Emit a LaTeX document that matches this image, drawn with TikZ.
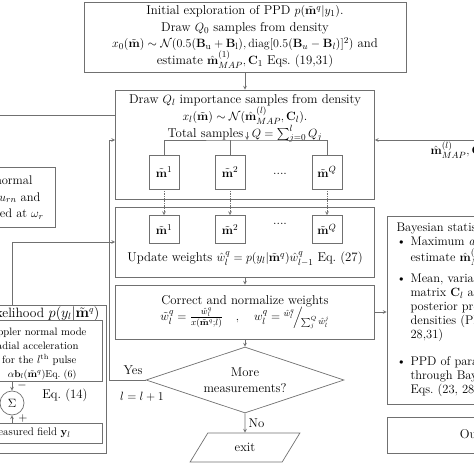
\documentclass[tikz,border=0pt]{standalone}
\usepackage{amsmath}
\usetikzlibrary{shapes.geometric}
\definecolor{edge}{HTML}{707070}
\newcommand{\mt}{\tilde{\mathbf{m}}}
\newcommand{\mh}{\hat{\mathbf{m}}}
\tikzset{
  box/.style={draw=edge, line width=0.7pt, inner sep=0pt},
  sample/.style={box, minimum width=30pt},
  link/.style={draw=edge, line width=0.7pt},
}
\begin{document}
\begin{tikzpicture}[>=stealth, x=1pt, y=-1pt, font=\fontsize{12.8}{16.5}\selectfont]
\useasboundingbox (0,0) rectangle (474,474);
% initial exploration
\node[box, minimum width=322pt, minimum height=70pt, align=center] (init) at (245,37) {
  Initial exploration of PPD $p(\mt^q|y_1)$.\\
  Draw $Q_0$ samples from density\\
  $x_0(\mt)\sim\mathcal{N}(0.5(\mathbf{B}_\mathrm{u}+\mathbf{B}_\mathrm{l}),\mathrm{diag}[0.5(\mathbf{B}_u-\mathbf{B}_l)]^2)$ and\\
  estimate $\mh^{(1)}_{MAP},\mathbf{C}_1$ Eqs.~(19,31)};
% importance sampling
\node[box, minimum width=259pt, minimum height=109pt] (imp) at (245,144.5) {};
\node[anchor=north, align=center, font=\fontsize{12.8}{14.5}\selectfont] (imptxt) at (245,91) {
  Draw $Q_l$ importance samples from density\\
  $x_l(\mt)\sim\mathcal{N}(\mh^{(l)}_{MAP},\mathbf{C}_l)$.\\
  Total samples \ $Q=\sum_{j=0}^{l}Q_j$};
\draw[link,->] (init.south) -- (imp.north);
\foreach \x/\s/\n in {164/1/a, 230/2/b, 327/Q/c}{
  % drawn samples
  \node[sample, minimum height=34pt] (s\n) at (\x,172) {$\mt^{\s}$};
  % weighted samples
  \node[sample, minimum height=28pt] (u\n) at (\x,229.5) {$\mt^{\s}$};
  \draw[link,->,densely dotted] (s\n) -- (u\n);
}
\node (dotsa) at (280,174) {....};
\node (dotsb) at (280,224) {....};
\coordinate (forktop) at (247,132);
\coordinate (fork) at (247,140);
\draw[link,->] (forktop) -- (fork);
\draw[link] (sa.north) |- (fork) -| (sc.north);
\draw[link] (sb.north) -- (sb.north |- fork);
% weights
\node[box, minimum width=259pt, minimum height=70pt] (upd) at (245,242) {};
\node (updtxt) at (245,259) {Update weights $\hat{w}_l^q=p(y_l|\mt^q)\hat{w}_{l-1}^q$ Eq.~(27)};
\node[box, minimum width=259pt, minimum height=54pt, align=center] (norm) at (245,312) {
  Correct and normalize weights\\
  $\tilde{w}_l^q=\frac{\hat{w}_l^q}{x(\mt^q;l)}\quad,\quad w_l^q={}^{\hat{w}_l^q}\!\Big/\!{}_{\sum_j^Q\hat{w}_l^j}$};
\draw[link,->] (upd.south) -- (norm.north);
% decision
\node[box, diamond, aspect=3, minimum width=198pt, minimum height=66pt, align=center, font=\fontsize{12.8}{15.5}\selectfont] (more) at (245,380) {More\\measurements?};
\draw[link,->] (norm.south) -- (more.north);
\node[box, trapezium, trapezium left angle=60, trapezium right angle=120, trapezium stretches=true, minimum width=110pt, minimum height=29pt] (exit) at (245,447.5) {exit};
\draw[link,->] (more.south) -- node[anchor=west] (nolbl) {No} (exit.north);
\coordinate (back) at (109,140);
\draw[link,->] (more.west) -| (back) -- (back -| imp.west);
\node (yeslbl) at (133,370) {Yes};
\node (incr) at (142,397) {$l=l+1$};
% bayesian statistics
\node[box, minimum width=173pt, minimum height=188pt] (bayes) at (473.5,310) {};
\node[anchor=north west, align=left, font=\fontsize{12.5}{14}\selectfont] (bayestxt) at (393,219) {
  Bayesian statistics\\
  \makebox[14pt][l]{\textbullet}Maximum \textit{a posteriori}\\
  \hspace*{14pt}estimate $\mh^{(l)}_{MAP}$ Eq.~(19)\\[7pt]
  \makebox[14pt][l]{\textbullet}Mean, variance, covariance\\
  \hspace*{14pt}matrix $\mathbf{C}_l$ and marginal\\
  \hspace*{14pt}posterior probability\\
  \hspace*{14pt}densities (PPDs) Eqs.~(27,\\
  \hspace*{14pt}28,31)\\[13pt]
  \makebox[14pt][l]{\textbullet}PPD of parameters\\
  \hspace*{14pt}through Bayes' theorem\\
  \hspace*{14pt}Eqs.~(23, 28)};
\draw[link,->] (norm.east) -- (norm.east -| bayes.west);
\node[box, minimum width=186pt, minimum height=36pt] (outbox) at (480,435) {Output};
\coordinate (mapsrc) at (480,140);
\draw[link,->] (mapsrc) -- (mapsrc -| imp.east);
\node[anchor=west] (maplbl) at (427,150) {$\mh^{(l)}_{MAP},\mathbf{C}_l$};
% left inputs
\node[box, minimum width=160pt, minimum height=60pt] (velbox) at (-25,197) {};
\node[anchor=east, align=right, font=\fontsize{12.5}{16.5}\selectfont] (veltxt) at (47,198) {Doppler normal\kern11pt\\velocity $u_{rn}$ and\kern3pt\\computed at $\omega_r$};
\coordinate (velsrc) at (-5,115);
\draw[link] (velsrc) -- (velsrc -| imp.west);
% likelihood
\node[box, minimum width=166pt, minimum height=148pt] (lik) at (23,379) {};
\node[anchor=east, font=\fontsize{13.5}{16}\selectfont] (liktxt) at (103,314) {Likelihood $p(y_l|\mt^q)$};
\node[box, minimum width=162pt, minimum height=61pt] (model) at (21,350.5) {};
\node[anchor=east, align=right, font=\fontsize{10.7}{14}\selectfont] (modeltxt) at (90,354) {
  Doppler normal mode\\
  radial acceleration\kern8pt\\
  prediction for the $l^{\text{th}}$ pulse\kern10pt\\
  {\fontsize{10}{14}\selectfont$\alpha\mathbf{b}_l(\mt^q)$Eq.~(6)}\kern10pt};
\node[circle, draw=edge, line width=0.7pt, minimum size=24pt, inner sep=0pt] (sum) at (12,403) {$\Sigma$};
\node (eqsum) at (65,395) {Eq.~(14)};
\node (minus) at (22,385) {$-$};
\node (plus) at (23,418) {$+$};
\node[box, minimum width=162pt, minimum height=20pt] (meas) at (21,433) {};
\node[anchor=east, font=\fontsize{11}{13}\selectfont] (meastxt) at (74,433) {Measured field $\mathbf{y}_l$};
\draw[link,->] (sum |- model.south) -- (sum.north);
\draw[link,->] (sum |- meas.north) -- (sum.south);
\draw[link,->] (sum |- lik.north) |- (upd.west);
\end{tikzpicture}
\end{document}
